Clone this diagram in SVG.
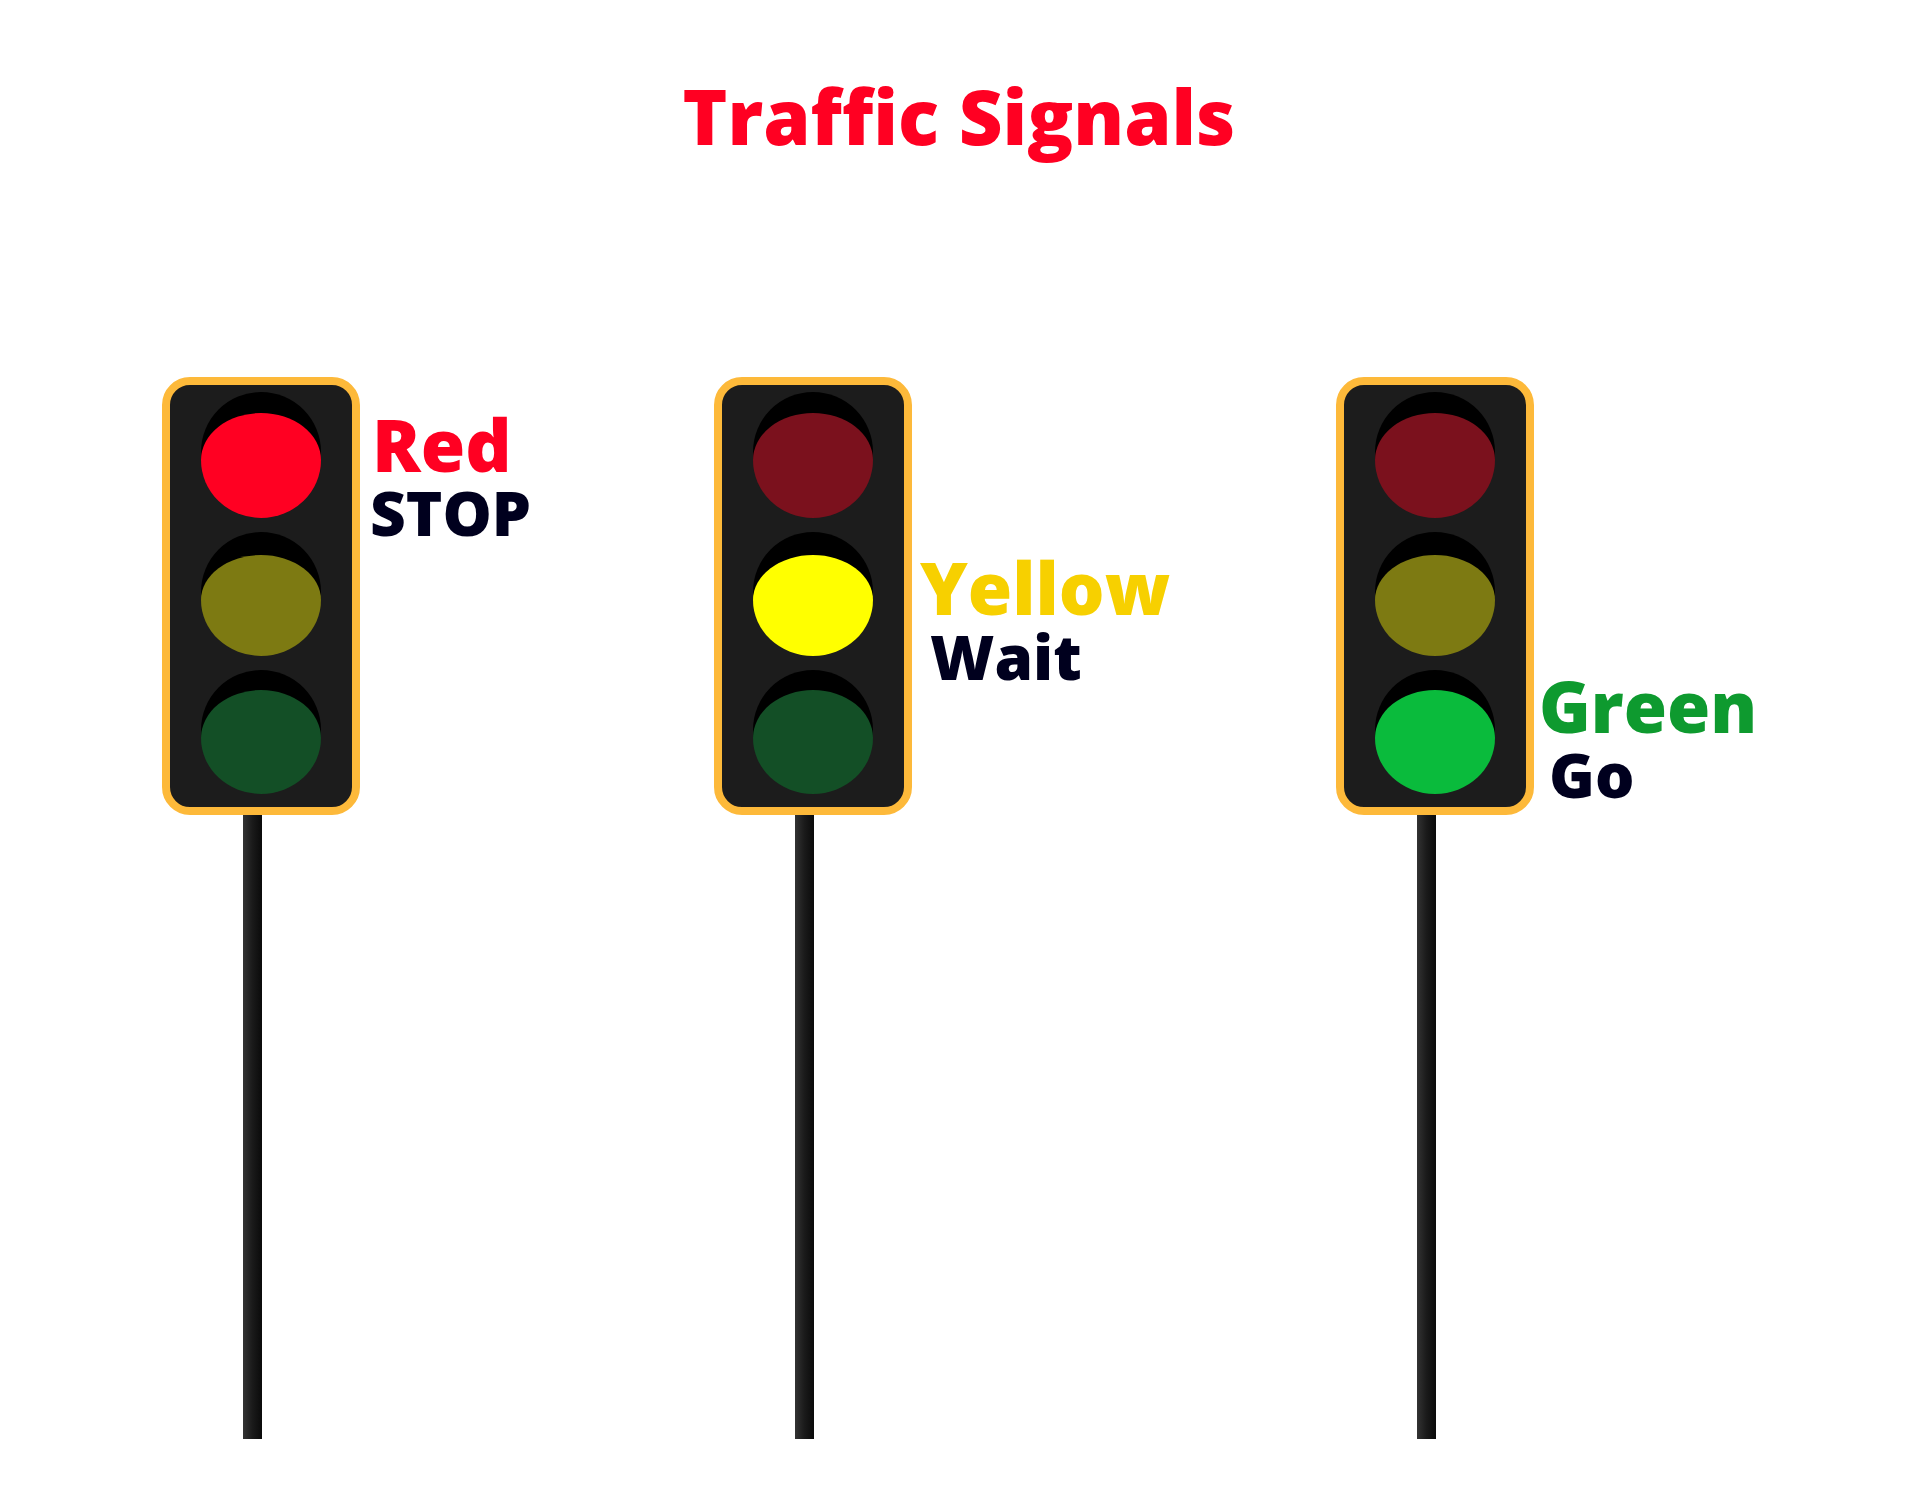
<svg xmlns="http://www.w3.org/2000/svg" width="1920" height="1493" viewBox="0 0 1920 1493">
<style>
.box{fill:#1c1c1c;stroke:#fdb93a;stroke-width:8}
.hood{fill:#000}
.t{font-family:"Open Sans","Liberation Sans",sans-serif;font-weight:800}
</style>
<defs>
<linearGradient id="pole" x1="0" x2="1"><stop offset="0" stop-color="#333"/><stop offset="0.5" stop-color="#1a1a1a"/><stop offset="1" stop-color="#0a0a0a"/></linearGradient>
<g id="lamp"><circle class="hood" cx="0" cy="-8" r="60"/></g>
</defs>
<rect width="1920" height="1493" fill="#fff"/>
<text class="t" x="959" y="145" font-size="76" fill="#ff0022" text-anchor="middle">Traffic Signals</text>
<g id="signal-red">
<rect x="243" y="815" width="19" height="624" fill="url(#pole)"/>
<rect class="box" x="166" y="381" width="190" height="430" rx="24"/>
<use href="#lamp" x="261" y="460"/><path d="M201,460 A60,47 0 0 1 321,460 A60,58 0 0 1 201,460Z" fill="#ff0022"/>
<use href="#lamp" x="261" y="600"/><path d="M201,600 A60,45 0 0 1 321,600 A60,56 0 0 1 201,600Z" fill="#7d7a12"/>
<use href="#lamp" x="261" y="738"/><path d="M201,738 A60,48 0 0 1 321,738 A60,56 0 0 1 201,738Z" fill="#134f26"/>
<text class="t" x="372" y="472" font-size="72" fill="#ff0022">Red</text>
<text class="t" x="370" y="536" font-size="62" fill="#00001e">STOP</text>
</g>
<g id="signal-yellow">
<rect x="795" y="815" width="19" height="624" fill="url(#pole)"/>
<rect class="box" x="718" y="381" width="190" height="430" rx="24"/>
<use href="#lamp" x="813" y="460"/><path d="M753,460 A60,47 0 0 1 873,460 A60,58 0 0 1 753,460Z" fill="#7b111d"/>
<use href="#lamp" x="813" y="600"/><path d="M753,600 A60,45 0 0 1 873,600 A60,56 0 0 1 753,600Z" fill="#ffff00"/>
<use href="#lamp" x="813" y="738"/><path d="M753,738 A60,48 0 0 1 873,738 A60,56 0 0 1 753,738Z" fill="#134f26"/>
<text class="t" x="920" y="615" font-size="72" fill="#f7d000">Yellow</text>
<text class="t" x="930" y="680" font-size="62" fill="#00001e">Wait</text>
</g>
<g id="signal-green">
<rect x="1417" y="815" width="19" height="624" fill="url(#pole)"/>
<rect class="box" x="1340" y="381" width="190" height="430" rx="24"/>
<use href="#lamp" x="1435" y="460"/><path d="M1375,460 A60,47 0 0 1 1495,460 A60,58 0 0 1 1375,460Z" fill="#7b111d"/>
<use href="#lamp" x="1435" y="600"/><path d="M1375,600 A60,45 0 0 1 1495,600 A60,56 0 0 1 1375,600Z" fill="#7d7a12"/>
<use href="#lamp" x="1435" y="738"/><path d="M1375,738 A60,48 0 0 1 1495,738 A60,56 0 0 1 1375,738Z" fill="#0abb3c"/>
<text class="t" x="1539" y="733" font-size="70" fill="#0e9a2f">Green</text>
<text class="t" x="1549" y="798" font-size="62" fill="#00001e">Go</text>
</g>
</svg>
